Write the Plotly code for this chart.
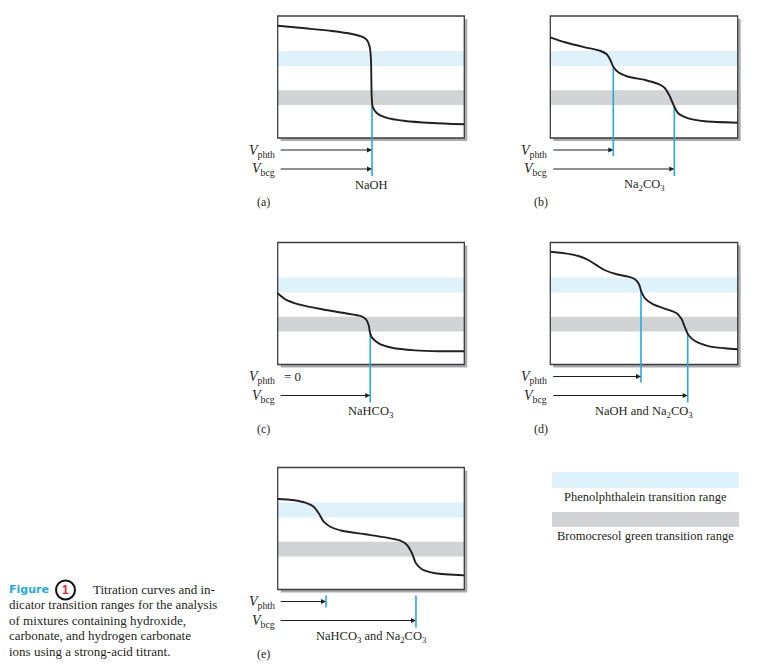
import numpy as np
import plotly.graph_objects as go

# ------------------------------------------------------------------ data
PHTH_RANGE = [8.0, 9.6]      # phenolphthalein transition range (pH)
BCG_RANGE = [3.8, 5.4]       # bromocresol green transition range (pH)
VOL_MAX = 50.0               # volume of strong-acid titrant shown (mL)

# (a) NaOH
vol_a = [0, 7.34, 14.52, 19.89, 22.58, 23.92, 24.65, 25.0, 25.08, 25.19, 25.46, 26.61, 28.84, 34.22, 41.4, 50]
ph_a = [12.32, 12.04, 11.75, 11.43, 11.14, 10.78, 10.06, 8.64, 6.84, 4.69, 3.62, 2.91, 2.48, 2.08, 1.87, 1.73]
# (b) Na2CO3
vol_b = [0, 3.92, 9.26, 13.26, 15.05, 16.01, 16.81, 18.14, 20.81, 25.27, 28.81, 30.6, 31.94, 33.09, 34.15, 36.82, 41.27, 50]
ph_b = [11.07, 10.54, 10.0, 9.63, 9.25, 8.64, 7.92, 7.31, 6.84, 6.49, 6.06, 5.6, 4.69, 3.62, 2.91, 2.37, 2.05, 1.9]
# (c) NaHCO3
vol_c = [0, 2.04, 5.63, 11.87, 18.12, 22.14, 23.66, 24.39, 24.73, 25.27, 27.06, 30.62, 36.87, 43.14, 50]
ph_c = [7.91, 7.26, 6.72, 6.19, 5.76, 5.47, 5.11, 4.47, 3.67, 3.14, 2.53, 2.06, 1.78, 1.68, 1.68]
# (d) NaOH and Na2CO3
vol_d = [0, 3.92, 7.48, 10.14, 12.38, 14.6, 17.72, 20.81, 22.6, 23.67, 24.39, 25.27, 27.48, 31.06, 33.73, 35.06, 35.95, 36.84, 38.62, 42.17, 46.63, 50]
ph_d = [12.37, 12.2, 11.91, 11.48, 10.91, 10.38, 9.95, 9.69, 9.41, 8.87, 7.97, 7.37, 6.72, 6.19, 5.76, 5.11, 4.21, 3.43, 2.78, 2.24, 2.0, 1.89]
# (e) NaHCO3 and Na2CO3
vol_e = [0, 3.83, 7.4, 9.65, 10.99, 12.33, 14.1, 17.23, 23.47, 28.83, 32.85, 34.65, 35.98, 37.05, 38.66, 42.22, 50]
ph_e = [9.98, 9.87, 9.58, 9.15, 8.44, 7.54, 7.0, 6.57, 6.19, 5.86, 5.5, 5.04, 4.15, 3.07, 2.43, 2.0, 1.78]

curves_vol = [vol_a, vol_b, vol_c, vol_d, vol_e]
curves_ph = [ph_a, ph_b, ph_c, ph_d, ph_e]

# end-point volumes (mL); 0 means no phenolphthalein end point
v_phth = [25.27, 16.81, 0.0, 24.2, 12.94]
v_bcg = [25.27, 33.09, 24.8, 36.66, 37.05]

panel_letters = ["(a)", "(b)", "(c)", "(d)", "(e)"]
sample_labels = ["NaOH", "Na<sub>2</sub>CO<sub>3</sub>", "NaHCO<sub>3</sub>",
                 "NaOH and Na<sub>2</sub>CO<sub>3</sub>",
                 "NaHCO<sub>3</sub> and Na<sub>2</sub>CO<sub>3</sub>"]
legend_labels = ["Phenolphthalein transition range", "Bromocresol green transition range"]
caption_lines = ["Titration curves and in-",
                 "dicator transition ranges for the analysis",
                 "of mixtures containing hydroxide,",
                 "carbonate, and hydrogen carbonate",
                 "ions using a strong-acid titrant."]

# ------------------------------------------------------------------ layout / style
FIG_W, FIG_H = 768, 668
PH0_LOCAL = 140.4      # local pixel row where pH 0 sits
PX_PER_PH = 9.31
PANELS = [
    dict(left=277.7, width=186.6, top=0.0, col=0, attached=True),
    dict(left=550.3, width=187.4, top=0.0, col=1, attached=True),
    dict(left=277.7, width=186.6, top=226.5, col=0, attached=True),
    dict(left=550.3, width=187.4, top=226.5, col=1, attached=True),
    dict(left=277.7, width=186.6, top=451.5, col=0, attached=False),
]
LETTER_X = [255.0, 531.7]
TXT = "#231f20"
BLUE = "#25a9e0"
BAND_BLUE = "#dff1fb"
BAND_GRAY = "#d1d3d4"
SERIF = "Liberation Serif"


def ph_of(local):
    return (PH0_LOCAL - local) / PX_PER_PH


def px(x):
    return x / FIG_W


def py(y):
    return 1 - y / FIG_H


fig = go.Figure()
shapes = []
annotations = []
layout_axes = {}

box_top, box_bot = ph_of(16), ph_of(138)

for i, p in enumerate(PANELS):
    suf = "" if i == 0 else str(i + 1)
    xref, yref = "x" + suf, "y" + suf
    L, W, R = p["left"], p["width"], p["top"]
    pxml = W / VOL_MAX
    layout_axes["xaxis" + suf] = dict(domain=[px(L - 2), px(L + W + 7)],
                                      range=[-2 / pxml, VOL_MAX + 7 / pxml],
                                      visible=False, anchor=yref, fixedrange=True)
    layout_axes["yaxis" + suf] = dict(domain=[py(R + 182), py(R + 12)],
                                      range=[ph_of(182), ph_of(12)],
                                      visible=False, anchor=xref, fixedrange=True)
    dx, dy = 3 / pxml, 3 / PX_PER_PH
    # drop shadow, white box, bands, border
    shapes.append(dict(type="rect", xref=xref, yref=yref, layer="below",
                       x0=dx, x1=VOL_MAX + dx, y0=box_bot - dy, y1=box_top - dy,
                       fillcolor="#a9abae", line=dict(width=0)))
    shapes.append(dict(type="rect", xref=xref, yref=yref, layer="below",
                       x0=0, x1=VOL_MAX, y0=box_bot, y1=box_top,
                       fillcolor="white", line=dict(width=0)))
    shapes.append(dict(type="rect", xref=xref, yref=yref, layer="below",
                       x0=0, x1=VOL_MAX, y0=PHTH_RANGE[0], y1=PHTH_RANGE[1],
                       fillcolor=BAND_BLUE, line=dict(width=0)))
    shapes.append(dict(type="rect", xref=xref, yref=yref, layer="below",
                       x0=0, x1=VOL_MAX, y0=BCG_RANGE[0], y1=BCG_RANGE[1],
                       fillcolor=BAND_GRAY, line=dict(width=0)))
    shapes.append(dict(type="rect", xref=xref, yref=yref, layer="below",
                       x0=0, x1=VOL_MAX, y0=box_bot, y1=box_top,
                       fillcolor="rgba(0,0,0,0)", line=dict(color="#3d3d3d", width=1.3)))

    vol, ph = curves_vol[i], curves_ph[i]
    # blue end-point lines
    ends = []
    if v_phth[i] > 0 and v_phth[i] != v_bcg[i]:
        ends.append((v_phth[i], ph_of(156)))
    ends.append((v_bcg[i], ph_of(176)))
    for v, yb in ends:
        ytop = float(np.interp(v, vol, ph)) if p["attached"] else ph_of(144)
        fig.add_trace(go.Scatter(x=[v, v], y=[ytop, yb], mode="lines",
                                 line=dict(color=BLUE, width=1.6),
                                 xaxis=xref, yaxis=yref, hoverinfo="skip"))
    # titration curve
    fig.add_trace(go.Scatter(x=vol, y=ph, mode="lines",
                             line=dict(color=TXT, width=1.9, shape="spline", smoothing=0.7),
                             xaxis=xref, yaxis=yref, hoverinfo="skip"))

    # arrows
    arrow_rows = []
    if v_phth[i] > 0:
        arrow_rows.append((v_phth[i], 150))
    arrow_rows.append((v_bcg[i], 169))
    for v, yl in arrow_rows:
        annotations.append(dict(xref=xref, yref=yref, axref=xref, ayref=yref,
                                x=v, y=ph_of(yl), ax=1.5 / pxml, ay=ph_of(yl),
                                text="", showarrow=True, arrowhead=2, arrowsize=1,
                                arrowwidth=1, arrowcolor=TXT, standoff=0))
    # V labels
    annotations.append(dict(xref="paper", yref="paper", x=px(L - 1), y=py(R + 151),
                            xanchor="right", yanchor="middle", showarrow=False,
                            text="<i>V</i><sub>phth</sub>",
                            font=dict(family=SERIF, size=14, color=TXT)))
    if v_phth[i] <= 0:
        annotations.append(dict(xref="paper", yref="paper", x=px(L + 4), y=py(R + 150),
                                xanchor="left", yanchor="middle", showarrow=False,
                                text="= 0", font=dict(family=SERIF, size=13, color=TXT)))
    annotations.append(dict(xref="paper", yref="paper", x=px(L - 1), y=py(R + 170),
                            xanchor="right", yanchor="middle", showarrow=False,
                            text="<i>V</i><sub>bcg</sub>",
                            font=dict(family=SERIF, size=14, color=TXT)))
    # sample label and panel letter
    annotations.append(dict(xref="paper", yref="paper", x=px(L + W / 2), y=py(R + 185),
                            xanchor="center", yanchor="middle", showarrow=False,
                            text=sample_labels[i], font=dict(family=SERIF, size=12.5, color=TXT)))
    annotations.append(dict(xref="paper", yref="paper", x=px(LETTER_X[p["col"]]), y=py(R + 202),
                            xanchor="left", yanchor="middle", showarrow=False,
                            text=panel_letters[i], font=dict(family=SERIF, size=12, color=TXT)))

# legend bars
for (y0, y1, col, ty), lab in zip([(472, 488, BAND_BLUE, 497), (512, 527, BAND_GRAY, 536)], legend_labels):
    shapes.append(dict(type="rect", xref="paper", yref="paper", x0=px(552), x1=px(739),
                       y0=py(y1), y1=py(y0), fillcolor=col, line=dict(width=0)))
    annotations.append(dict(xref="paper", yref="paper", x=px(645.5), y=py(ty),
                            xanchor="center", yanchor="middle", showarrow=False,
                            text=lab, font=dict(family=SERIF, size=12.5, color=TXT)))

# caption
shapes.append(dict(type="circle", xref="paper", yref="paper", x0=px(56), x1=px(75),
                   y0=py(599.5), y1=py(580.5), fillcolor="white",
                   line=dict(color="#111111", width=2)))
annotations.append(dict(xref="paper", yref="paper", x=px(65.5), y=py(590), xanchor="center",
                        yanchor="middle", showarrow=False, text="<b>1</b>",
                        font=dict(family="Liberation Sans", size=12, color="#e0262b")))
annotations.append(dict(xref="paper", yref="paper", x=px(7), y=py(589), xanchor="left",
                        yanchor="middle", showarrow=False, text="<b>Figure</b>",
                        font=dict(family="DejaVu Sans", size=11, color="#27a8df")))
cap_y = [589, 604.5, 620, 635.5, 651]
for k, (line, yy) in enumerate(zip(caption_lines, cap_y)):
    annotations.append(dict(xref="paper", yref="paper", x=px(91 if k == 0 else 7), y=py(yy),
                            xanchor="left", yanchor="middle", showarrow=False, text=line,
                            font=dict(family=SERIF, size=13, color=TXT)))

fig.update_layout(width=FIG_W, height=FIG_H, margin=dict(l=0, r=0, t=0, b=0),
                  paper_bgcolor="white", plot_bgcolor="rgba(0,0,0,0)",
                  showlegend=False, shapes=shapes, annotations=annotations, **layout_axes)
fig.write_html("out.html")
